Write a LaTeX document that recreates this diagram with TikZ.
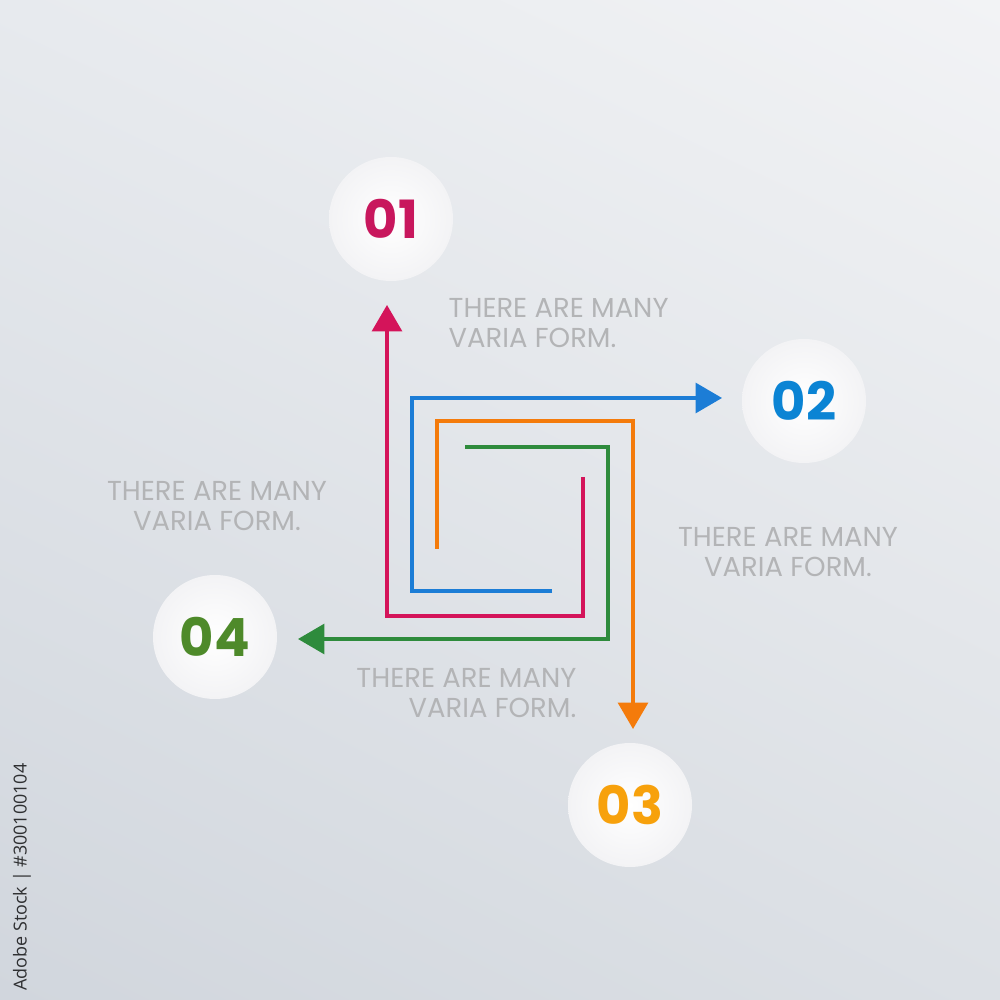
\documentclass[tikz,border=0pt]{standalone}
\usepackage{fontspec}
\setmainfont{Poppins}
\newfontfamily\markfont{Open Sans}
\usepackage{xcolor}
\usepackage{tikz}
\usetikzlibrary{positioning}
\usetikzlibrary{arrows.meta}
\usetikzlibrary{shadings}
\pgfdeclarelayer{bglayer}
\pgfdeclarelayer{nodelayer}
\pgfdeclarelayer{edgelayer}
\pgfsetlayers{bglayer,nodelayer,edgelayer,main}
\definecolor{bgul}{HTML}{E7EAEE}
\definecolor{bgur}{HTML}{F2F3F5}
\definecolor{bgll}{HTML}{D1D6DD}
\definecolor{bglr}{HTML}{DCE0E5}
\definecolor{ballrim}{HTML}{F3F3F5}
\definecolor{blurbgray}{HTML}{B3B4B6}
\definecolor{markgray}{HTML}{2E2F31}
\definecolor{numpink}{HTML}{C8175D}
\definecolor{numblue}{HTML}{0B84D4}
\definecolor{numorange}{HTML}{F7A10C}
\definecolor{numgreen}{HTML}{4E8A2A}
\definecolor{linepink}{HTML}{D4145A}
\definecolor{lineblue}{HTML}{1C7DD6}
\definecolor{lineorange}{HTML}{F47B0B}
\definecolor{linegreen}{HTML}{2E8B3C}
\tikzset{
    none/.style = {inner sep=0pt},
    ball/.style = {circle, minimum size=1.24cm, inner sep=0pt, shading=radial,
        inner color=white, outer color=ballrim,
        font=\fontsize{15}{15}\selectfont\bfseries},
    blurb/.style = {inner sep=0pt, text=blurbgray, font=\fontsize{7.8}{8.5}\selectfont},
    spiral/.style = {line width=0.95pt, -{Triangle[width=8.5pt,length=7.5pt]}}
}

\begin{document}
\begin{tikzpicture}
    \begin{pgfonlayer}{bglayer}
        \shade [upper left=bgul, upper right=bgur, lower left=bgll, lower right=bglr] (-5, -5) rectangle (5, 5);
    \end{pgfonlayer}
    \begin{pgfonlayer}{nodelayer}
        \node [style=ball, text=numpink] (0) at (-1.09, 2.81) {01};
        \node [style=ball, text=numblue] (1) at (3.04, 0.99) {02};
        \node [style=ball, text=numorange] (2) at (1.3, -3.05) {03};
        \node [style=ball, text=numgreen] (3) at (-2.85, -1.37) {04};
        \node [style=none] (4) at (-1.13, 1.95) {};
        \node [style=none] (5) at (-1.13, -1.16) {};
        \node [style=none] (6) at (0.83, -1.16) {};
        \node [style=none] (7) at (0.83, 0.23) {};
        \node [style=none] (8) at (0.52, -0.91) {};
        \node [style=none] (9) at (-0.88, -0.91) {};
        \node [style=none] (10) at (-0.88, 1.02) {};
        \node [style=none] (11) at (2.22, 1.02) {};
        \node [style=none] (12) at (-0.63, -0.49) {};
        \node [style=none] (13) at (-0.63, 0.79) {};
        \node [style=none] (14) at (1.33, 0.79) {};
        \node [style=none] (15) at (1.33, -2.29) {};
        \node [style=none] (16) at (-0.35, 0.53) {};
        \node [style=none] (17) at (1.08, 0.53) {};
        \node [style=none] (18) at (1.08, -1.39) {};
        \node [style=none] (19) at (-2.02, -1.39) {};
        \node [style=blurb, anchor=west, align=left] (20) at (-0.52, 1.77) {THERE ARE MANY\\VARIA FORM.};
        \node [style=blurb, align=center] (21) at (2.88, -0.52) {THERE ARE MANY\\VARIA FORM.};
        \node [style=blurb, anchor=east, align=right] (22) at (0.77, -1.93) {THERE ARE MANY\\VARIA FORM.};
        \node [style=blurb, align=center] (23) at (-2.83, -0.06) {THERE ARE MANY\\VARIA FORM.};
        \node [style=none, rotate=90, text=markgray, font=\markfont\fontsize{5.1}{5.1}\selectfont] (24) at (-4.78, -3.77) {Adobe Stock | \#300100104};
    \end{pgfonlayer}
    \begin{pgfonlayer}{edgelayer}
        % each line winds in and ends on its own arrow
        \draw [style=spiral, linepink] (7.center) to (6.center) to (5.center) to (4.center);
        \draw [style=spiral, lineblue] (8.center) to (9.center) to (10.center) to (11.center);
        \draw [style=spiral, lineorange] (12.center) to (13.center) to (14.center) to (15.center);
        \draw [style=spiral, linegreen] (16.center) to (17.center) to (18.center) to (19.center);
    \end{pgfonlayer}
\end{tikzpicture}
\end{document}
